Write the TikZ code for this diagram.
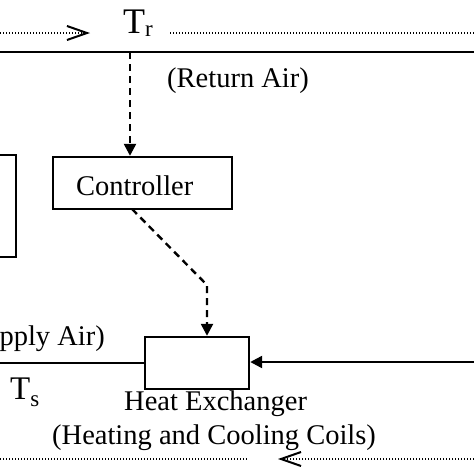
\documentclass[tikz,border=0pt]{standalone}
\usepackage{fontspec}
\setmainfont{Liberation Serif}
\usetikzlibrary{arrows.meta}
\begin{document}
\begin{tikzpicture}[x=1pt,y=-1pt,
  boxline/.style={line width=2.4pt},
  solidline/.style={line width=2.4pt},
  dashline/.style={line width=2.4pt,dash pattern=on 7pt off 5pt},
  dotline/.style={line width=1.8pt,dash pattern=on 1.4pt off 1.6pt},
  filltip/.style={-{Triangle[length=12pt,width=12pt]}},
  barbtip/.style={-{Straight Barb[length=20pt,width=14pt,line width=2pt]}},
  txt/.style={inner sep=0pt,font=\fontsize{28.5}{30}\selectfont},
  blockbox/.style={draw,line width=2.4pt,rectangle,inner sep=0pt}]
\useasboundingbox (0,0) rectangle (474,474);
% top return air duct
\coordinate (topL) at (0,52);
\coordinate (topR) at (474,52);
\coordinate (sense) at (130,52);
\draw[solidline] (topL) -- (topR);
\coordinate (d1a) at (0,33);
\coordinate (d1b) at (90,33);
\draw[dotline,barbtip] (d1a) -- (d1b);
\coordinate (d2a) at (170,33);
\coordinate (d2b) at (474,33);
\draw[dotline] (d2a) -- (d2b);
\node[txt,anchor=base west] (tr) at (123,33) {{\fontsize{36}{36}\selectfont T}\raisebox{-3pt}{\fontsize{23}{23}\selectfont r}};
\node[txt,anchor=base west] (ret) at (167,87) {(Return Air)};
% left box (partially visible)
\draw[boxline] (0,155) -- (16,155) -- (16,257) -- (0,257);
% controller
\node[blockbox,minimum width=179pt,minimum height=52pt] (ctrl) at (142.5,183) {};
\node[txt,anchor=base west] (ctrltext) at (76,195) {Controller};
\draw[dashline,filltip] (sense) -- (ctrl.north -| sense);
% heat exchanger
\node[blockbox,minimum width=104pt,minimum height=52pt] (he) at (197,363) {};
\coordinate (k) at (207,285);
\coordinate (cs) at (132,209);
\draw[dashline,filltip] (cs) -- (k) -- (k |- he.north);
\coordinate (supL) at (0,363);
\draw[solidline] (supL) -- (he.west);
\coordinate (inR) at (474,362);
\draw[solidline,filltip] (inR) -- (he.east |- inR);
\node[txt,anchor=base east] (sup) at (105,345) {pply Air)};
\node[txt,anchor=base west] (ts) at (10,399) {{\fontsize{33}{33}\selectfont T}\raisebox{-7pt}{\fontsize{23}{23}\selectfont s}};
\node[txt,anchor=base west] (hetext) at (124,410) {Heat Exchanger};
\node[txt,anchor=base west] (coils) at (52,444) {(Heating and Cooling Coils)};
% bottom dotted flow
\coordinate (b1a) at (0,459);
\coordinate (b1b) at (248,459);
\draw[dotline] (b1a) -- (b1b);
\coordinate (b2a) at (474,459);
\coordinate (b2b) at (278,459);
\draw[dotline,barbtip] (b2a) -- (b2b);
\end{tikzpicture}
\end{document}
